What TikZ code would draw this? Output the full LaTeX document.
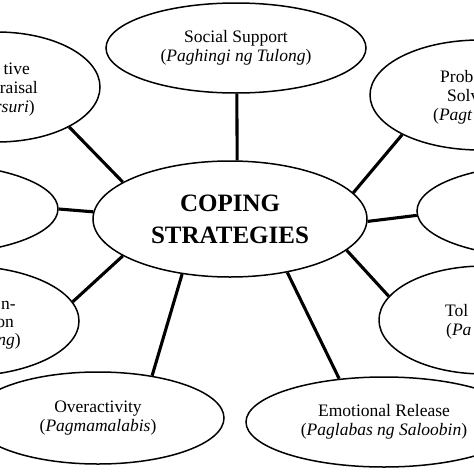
\documentclass[tikz,border=0pt]{standalone}
\usepackage{fontspec}
\setmainfont{Liberation Serif}
\usetikzlibrary{shapes.geometric}
\begin{document}
\begin{tikzpicture}[x=1pt,y=-1pt,
  oval/.style={ellipse, draw, line width=1.5pt, fill=white, inner sep=0pt, align=center, font=\fontsize{17.5}{19}\selectfont},
  frag/.style={font=\fontsize{17.5}{19}\selectfont, inner sep=0pt},
  link/.style={line width=3.1pt}]
\useasboundingbox (0,0) rectangle (474,474);
\node[oval, minimum width=274pt, minimum height=116pt, font=\fontsize{25}{32}\bfseries\selectfont] (core) at (230,219) {COPING\\STRATEGIES};
\node[oval, minimum width=260pt, minimum height=90pt] (social) at (236,48) {Social Support\\(\textit{Paghingi ng Tulong})};
\node[oval, minimum width=206pt, minimum height=110pt] (cognitive) at (-3,87) {};
\node[oval, minimum width=250pt, minimum height=90pt] (avoid) at (-67,209) {};
\node[oval, minimum width=230pt, minimum height=110pt] (tension) at (-36,321) {};
\node[oval, minimum width=252pt, minimum height=92pt] (overact) at (98,418) {Overactivity\\(\textit{Pagmamalabis})};
\node[oval, minimum width=276pt, minimum height=90pt] (release) at (384,422) {Emotional Release\\(\textit{Paglabas ng Saloobin})};
\node[oval, minimum width=210pt, minimum height=108pt] (tolerance) at (484,320) {};
\node[oval, minimum width=250pt, minimum height=92pt] (rightmid) at (542,211) {};
\node[oval, minimum width=220pt, minimum height=110pt] (problem) at (480,95) {};
\node[frag, anchor=base east] (cogA) at (30,74) {tive};
\node[frag, anchor=base east] (cogB) at (38,93) {raisal};
\node[frag, anchor=base east] (cogC) at (35,112) {\textit{rsuri})};
\node[frag, anchor=base east] (tenA) at (16,309) {n-};
\node[frag, anchor=base east] (tenB) at (14,327) {on};
\node[frag, anchor=base east] (tenC) at (21,345) {\textit{ng})};
\node[frag, anchor=base west] (probA) at (440,82) {Prob};
\node[frag, anchor=base west] (probB) at (447,101) {Solv};
\node[frag, anchor=base west] (probC) at (433,120) {(\textit{Pagt}};
\node[frag, anchor=base west] (tolA) at (445,316) {Tol};
\node[frag, anchor=base west] (tolB) at (446,335) {(\textit{Pa}};
\draw[link] (social.-89) -- (core.83);
\draw[link] (cognitive.-29) -- (core.161);
\draw[link] (avoid.0) -- (core.177);
\draw[link] (tension.10) -- (core.199);
\draw[link] (overact.38) -- (core.229);
\draw[link] (release.136) -- (core.-43);
\draw[link] (tolerance.166) -- (core.-15);
\draw[link] (rightmid.182) -- (core.-1);
\draw[link] (problem.207) -- (core.12.5);
\end{tikzpicture}
\end{document}
